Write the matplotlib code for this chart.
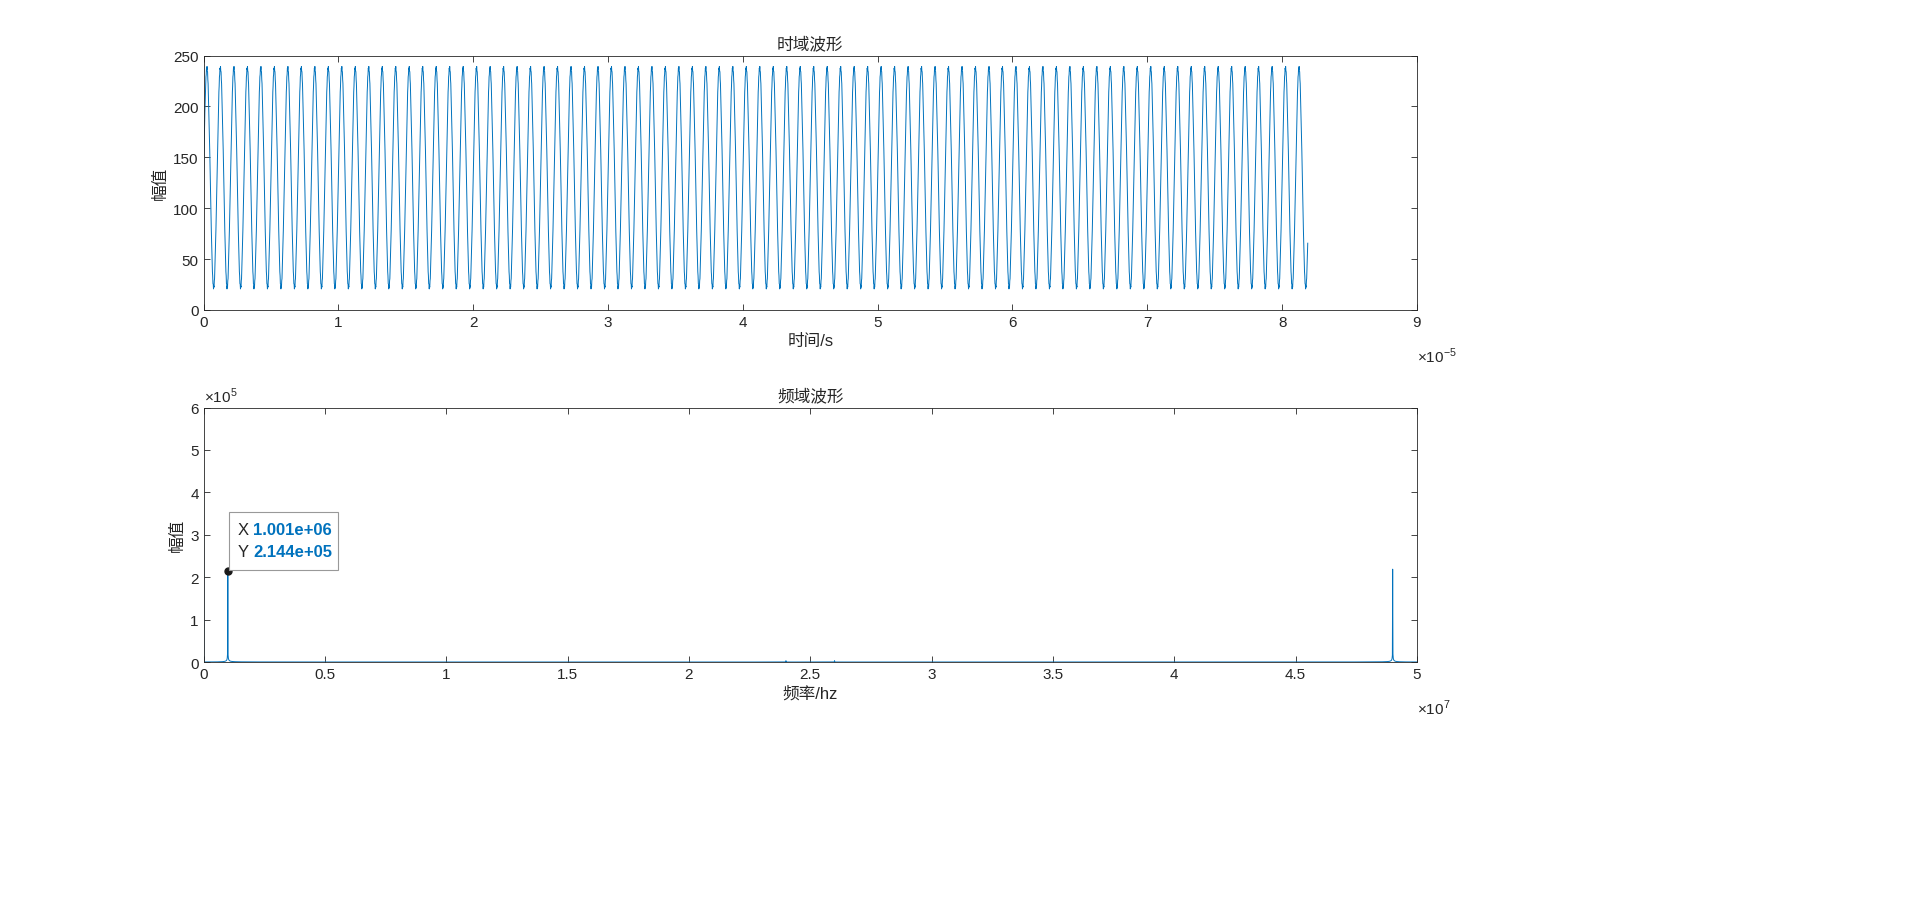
import numpy as np
import matplotlib.pyplot as plt
from matplotlib.patches import Rectangle

plt.rcParams['font.family'] = ['Liberation Sans', 'Noto Sans CJK SC', 'DejaVu Sans']
plt.rcParams['font.size'] = 11
plt.rcParams['mathtext.fontset'] = 'custom'
plt.rcParams['mathtext.rm'] = 'Liberation Sans'

# signal parameters
fs = 5e7            # sample rate, Hz
n_samples = 4096
tone_freq = 1.0e6   # main tone, Hz
tone_amp = 108.0
dc_offset = 130.0
spur_freq = 2.4e7   # small spur visible in the spectrum
spur_amp = 1.5

titles = ['时域波形', '频域波形']
xlabels = ['时间/s', '频率/hz']
ylabel = '幅值'
time_ticks = [0, 1, 2, 3, 4, 5, 6, 7, 8, 9]          # x 1e-5
freq_ticks = [0, 0.5, 1, 1.5, 2, 2.5, 3, 3.5, 4, 4.5, 5]  # x 1e7
amp_ticks = [0, 1, 2, 3, 4, 5, 6]                    # x 1e5
cursor_x = 1.001e6
cursor_y = 2.144e5

t = np.arange(n_samples) / fs
sig = dc_offset + tone_amp * np.sin(2 * np.pi * tone_freq * t) \
    + spur_amp * np.sin(2 * np.pi * spur_freq * t)
spec = np.abs(np.fft.fft(sig))
freq = np.arange(n_samples) * fs / n_samples

blue = '#0072BD'
dark = '#262626'
fig = plt.figure(figsize=(19.2, 9.12), dpi=100)
ax1 = fig.add_axes((0.106, 0.659, 0.632, 0.279))
ax2 = fig.add_axes((0.106, 0.273, 0.632, 0.279))

ax1.plot(t, sig, color=blue, lw=0.7)
ax1.set_xlim(0, 9e-5)
ax1.set_ylim(0, 250)
ax1.set_xticks([v * 1e-5 for v in time_ticks])
ax1.set_xticklabels([f'{v:g}' for v in time_ticks])
ax1.text(1.0, -0.14, r'$\times10^{-5}$', transform=ax1.transAxes,
         ha='left', va='top', fontsize=11, color=dark)

ax2.plot(freq, spec, color=blue, lw=0.7)
ax2.set_xlim(0, 5e7)
ax2.set_ylim(0, 6e5)
ax2.set_xticks([v * 1e7 for v in freq_ticks])
ax2.set_xticklabels([f'{v:g}' for v in freq_ticks])
ax2.set_yticks([v * 1e5 for v in amp_ticks])
ax2.set_yticklabels([f'{v:g}' for v in amp_ticks])
ax2.text(1.0, -0.14, r'$\times10^{7}$', transform=ax2.transAxes,
         ha='left', va='top', fontsize=11, color=dark)
ax2.text(0.0, 1.01, r'$\times10^{5}$', transform=ax2.transAxes,
         ha='left', va='bottom', fontsize=11, color=dark)

# data cursor
ax2.plot([cursor_x], [cursor_y], 'o', color='#1a1a1a', ms=5, zorder=5)
ax2.add_patch(Rectangle((0.021, 0.36), 0.09, 0.23, transform=ax2.transAxes,
                        fc='white', ec='#999999', lw=0.8, zorder=6))
for ypos, lab, val in [(0.52, 'X', '1.001e+06'), (0.435, 'Y', '2.144e+05')]:
    ax2.text(0.028, ypos, lab, transform=ax2.transAxes, color=dark,
             fontsize=12, va='center', zorder=7)
    ax2.text(0.041, ypos, val, transform=ax2.transAxes, color=blue,
             fontsize=12, fontweight='bold', va='center', zorder=7)

for ax, title, xl in zip((ax1, ax2), titles, xlabels):
    ax.set_title(title, fontsize=12, color=dark, pad=5)
    ax.set_xlabel(xl, fontsize=12, color=dark, labelpad=3)
    ax.set_ylabel(ylabel, fontsize=12, color=dark, labelpad=4)
    ax.tick_params(direction='in', top=True, right=True, labelsize=11,
                   colors=dark, length=4, width=0.6)
    for s in ax.spines.values():
        s.set_color(dark)
        s.set_linewidth(0.6)

fig.savefig('out.png', dpi=100, facecolor='white')
